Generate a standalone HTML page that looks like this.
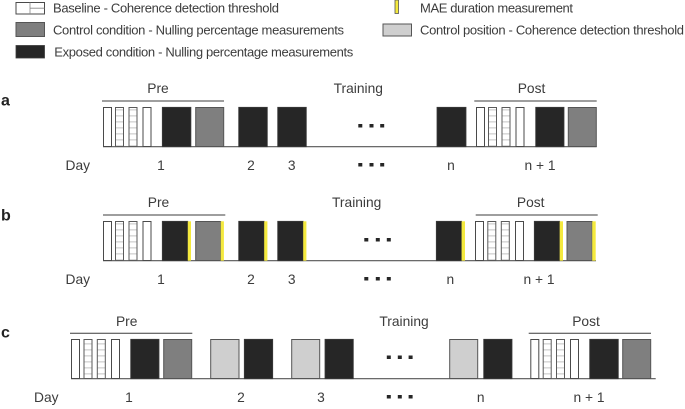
<!DOCTYPE html>
<html lang="en">
<head>
<meta charset="utf-8">
<title>Experimental timeline</title>
<style>
html,body{margin:0;padding:0;background:#fff;}
svg{display:block;filter:blur(.25px);}
text{font-family:"Liberation Sans",Arial,sans-serif;font-size:13.8px;fill:#3c3c3c;}
.leg{font-size:13px;}
.mid{text-anchor:middle;}
.let{font-size:16px;font-weight:bold;fill:#222;}
.thin{fill:#fff;stroke:#4a4a4a;stroke-width:1;}
.grid{fill:url(#grid-lines);stroke:#5a5a5a;stroke-width:1;}
.blk{fill:#262626;stroke:#3a3a3a;stroke-width:.8;}
.gry{fill:#7f7f7f;stroke:#555;stroke-width:1;}
.lgt{fill:#cfcfcf;stroke:#555;stroke-width:1;}
.yel{fill:#f4e93e;stroke:none;}
.ln{stroke:#3c3c3c;stroke-width:1;fill:none;}
.base{stroke:#555;stroke-width:1.2;fill:none;}
.dot{fill:#262626;}
</style>
</head>
<body>
<svg xmlns="http://www.w3.org/2000/svg" width="685" height="409" viewBox="0 0 685 409">
<defs>
<pattern id="grid-lines" width="8" height="6" patternUnits="userSpaceOnUse" y="1.5">
<rect width="8" height="6" fill="#fff"/>
<rect width="8" height="0.8" fill="#b5b5b5"/>
</pattern>
</defs>
<rect width="685" height="409" fill="#fff"/>

<g>
<rect x="16" y="2.5" width="28.5" height="11.5" class="thin"/>
<path d="M30 2.5V14M30 8.2H44.5" stroke="#888" stroke-width=".8" fill="none"/>
<text x="53" y="12.5" class="leg" textLength="226">Baseline - Coherence detection threshold</text>
<rect x="16" y="22.5" width="28.5" height="14" class="gry"/>
<text x="53" y="34.5" class="leg" textLength="291">Control condition - Nulling percentage measurements</text>
<rect x="16" y="45.5" width="28.5" height="12.5" class="blk"/>
<text x="54.3" y="56.7" class="leg" textLength="299">Exposed condition - Nulling percentage measurements</text>
<rect x="395" y="0" width="3.5" height="13.5" fill="#f4e93e" stroke="#555" stroke-width=".8"/>
<text x="420" y="12.5" class="leg" textLength="153">MAE duration measurement</text>
<rect x="383" y="24" width="28.5" height="12" class="lgt"/>
<text x="420" y="34.7" class="leg" textLength="264">Control position - Coherence detection threshold</text>
</g>

<g>
<text x="1" y="105.5" class="let">a</text>
<text x="158" y="93" class="mid">Pre</text>
<text x="358.3" y="93" class="mid">Training</text>
<text x="531.5" y="93" class="mid">Post</text>
<path d="M102 101H224" class="ln"/>
<path d="M474.3 101H596.7" class="ln"/>
<path d="M103 146.7H596.7" class="base"/>
<rect x="103.5" y="107.5" width="8" height="39" class="thin"/>
<rect x="115.5" y="107.5" width="8" height="39" class="grid"/>
<rect x="129" y="107.5" width="8" height="39" class="grid"/>
<rect x="143" y="107.5" width="8" height="39" class="thin"/>
<rect x="162.3" y="107.3" width="28.6" height="39.4" class="blk"/>
<rect x="195.7" y="107.5" width="28" height="39" class="gry"/>
<rect x="238.7" y="107.3" width="28.6" height="39.4" class="blk"/>
<rect x="277.7" y="107.3" width="28.6" height="39.4" class="blk"/>
<rect x="437" y="107.3" width="29" height="39.4" class="blk"/>
<rect x="476.5" y="107.5" width="8" height="39" class="thin"/>
<rect x="488.5" y="107.5" width="8" height="39" class="grid"/>
<rect x="502" y="107.5" width="8" height="39" class="grid"/>
<rect x="516" y="107.5" width="8" height="39" class="thin"/>
<rect x="535.7" y="107.3" width="28.3" height="39.4" class="blk"/>
<rect x="568.3" y="107.5" width="28" height="39" class="gry"/>
<g class="dot"><rect x="358.3" y="124" width="4" height="3.5"/><rect x="369.5" y="124" width="4" height="3.5"/><rect x="380.2" y="124" width="4" height="3.5"/></g>
<g class="dot"><rect x="358.3" y="163" width="4" height="3.5"/><rect x="369.5" y="163" width="4" height="3.5"/><rect x="380.2" y="163" width="4" height="3.5"/></g>
<text x="65.5" y="170">Day</text>
<text x="161" y="170" class="mid">1</text>
<text x="251" y="170" class="mid">2</text>
<text x="291.7" y="170" class="mid">3</text>
<text x="451" y="170" class="mid">n</text>
<text x="540" y="170" class="mid">n + 1</text>
</g>

<g>
<text x="1" y="220.5" class="let">b</text>
<text x="158.5" y="207" class="mid">Pre</text>
<text x="356.7" y="207" class="mid">Training</text>
<text x="530.7" y="207" class="mid">Post</text>
<path d="M103 215H225.3" class="ln"/>
<path d="M475.7 215H597.7" class="ln"/>
<path d="M103 260.7H596" class="base"/>
<rect x="103.5" y="221.5" width="8" height="39" class="thin"/>
<rect x="115.5" y="221.5" width="8" height="39" class="grid"/>
<rect x="129" y="221.5" width="8" height="39" class="grid"/>
<rect x="143" y="221.5" width="8" height="39" class="thin"/>
<rect x="162.3" y="221.3" width="25.5" height="39.4" class="blk"/>
<rect x="187.8" y="221.3" width="3.2" height="39.4" class="yel"/>
<rect x="195.7" y="221.5" width="25" height="39" class="gry"/>
<rect x="220.7" y="221.3" width="3.2" height="39.4" class="yel"/>
<rect x="238.7" y="221.3" width="25.5" height="39.4" class="blk"/>
<rect x="264.2" y="221.3" width="3.2" height="39.4" class="yel"/>
<rect x="277.7" y="221.3" width="25.5" height="39.4" class="blk"/>
<rect x="303.2" y="221.3" width="3.2" height="39.4" class="yel"/>
<rect x="436.3" y="221.3" width="25.3" height="39.4" class="blk"/>
<rect x="461.6" y="221.3" width="3.4" height="39.4" class="yel"/>
<rect x="475.5" y="221.5" width="8" height="39" class="thin"/>
<rect x="487.8" y="221.5" width="8" height="39" class="grid"/>
<rect x="501.3" y="221.5" width="8" height="39" class="grid"/>
<rect x="515.5" y="221.5" width="8" height="39" class="thin"/>
<rect x="534.3" y="221.3" width="25.4" height="39.4" class="blk"/>
<rect x="559.7" y="221.3" width="3.3" height="39.4" class="yel"/>
<rect x="567" y="221.5" width="25.2" height="39" class="gry"/>
<rect x="592.2" y="221.3" width="3.5" height="39.4" class="yel"/>
<g class="dot"><rect x="364.3" y="238" width="4" height="3.5"/><rect x="375.8" y="238" width="4" height="3.5"/><rect x="386.8" y="238" width="4" height="3.5"/></g>
<g class="dot"><rect x="364.3" y="277" width="4" height="3.5"/><rect x="375.8" y="277" width="4" height="3.5"/><rect x="386.8" y="277" width="4" height="3.5"/></g>
<text x="65.5" y="284">Day</text>
<text x="161" y="284" class="mid">1</text>
<text x="251" y="284" class="mid">2</text>
<text x="291.7" y="284" class="mid">3</text>
<text x="450.3" y="284" class="mid">n</text>
<text x="539" y="284" class="mid">n + 1</text>
</g>

<g>
<text x="1" y="337.7" class="let">c</text>
<text x="126.7" y="326" class="mid">Pre</text>
<text x="404" y="326" class="mid">Training</text>
<text x="586" y="326" class="mid">Post</text>
<path d="M70 333.3H192.3" class="ln"/>
<path d="M528.7 333.3H651" class="ln"/>
<path d="M71 378.7H655.7" class="base"/>
<rect x="71.5" y="339.5" width="8" height="39" class="thin"/>
<rect x="84" y="339.5" width="8" height="39" class="grid"/>
<rect x="97.3" y="339.5" width="8" height="39" class="grid"/>
<rect x="111.5" y="339.5" width="8" height="39" class="thin"/>
<rect x="130.7" y="339.3" width="28.3" height="39.4" class="blk"/>
<rect x="163.7" y="339.5" width="28" height="39" class="gry"/>
<rect x="210.7" y="339.5" width="28.3" height="39" class="lgt"/>
<rect x="244.3" y="339.3" width="28.4" height="39.4" class="blk"/>
<rect x="291.7" y="339.5" width="28" height="39" class="lgt"/>
<rect x="325" y="339.3" width="28.3" height="39.4" class="blk"/>
<rect x="449.7" y="339.5" width="28" height="39" class="lgt"/>
<rect x="483.7" y="339.3" width="28.3" height="39.4" class="blk"/>
<rect x="530.8" y="339.5" width="8" height="39" class="thin"/>
<rect x="543.2" y="339.5" width="8" height="39" class="grid"/>
<rect x="556.5" y="339.5" width="8" height="39" class="grid"/>
<rect x="570.5" y="339.5" width="8" height="39" class="thin"/>
<rect x="589.7" y="339.3" width="28.6" height="39.4" class="blk"/>
<rect x="622.7" y="339.5" width="28" height="39" class="gry"/>
<g class="dot"><rect x="386.8" y="355.5" width="4" height="3.5"/><rect x="397.8" y="355.5" width="4" height="3.5"/><rect x="408.6" y="355.5" width="4" height="3.5"/></g>
<g class="dot"><rect x="386.8" y="395" width="4" height="3.5"/><rect x="397.8" y="395" width="4" height="3.5"/><rect x="408.6" y="395" width="4" height="3.5"/></g>
<text x="46.3" y="402" class="mid">Day</text>
<text x="129" y="402" class="mid">1</text>
<text x="241" y="402" class="mid">2</text>
<text x="321" y="402" class="mid">3</text>
<text x="480.7" y="402" class="mid">n</text>
<text x="589" y="402" class="mid">n + 1</text>
</g>
</svg>
</body>
</html>
